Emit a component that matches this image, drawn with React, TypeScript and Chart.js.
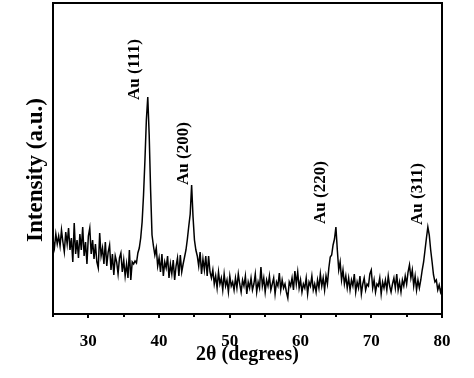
import React, { useEffect, useRef } from 'react';
import { Chart, registerables } from 'chart.js';

Chart.register(...registerables);

// XRD scan: 2θ from 25° to 80° with 0.2° step
const SCAN_START = 25;
const SCAN_STEP = 0.2;

// Intensity (a.u.), one value per scan step
const INTENSITY = [
  // 25
  74, 66, 80, 70, 78,
  // 26
  68, 84, 72, 62, 82,
  // 27
  70, 86, 64, 76, 52,
  // 28
  91, 60, 74, 56, 80,
  // 29
  64, 87, 58, 72, 50,
  // 30
  78, 86, 60, 74, 55,
  // 31
  70, 52, 46, 81, 58,
  // 32
  66, 50, 72, 48, 62,
  // 33
  69, 44, 60, 39, 58,
  // 34
  52, 40, 56, 61, 42,
  // 35
  54, 38, 50, 36, 64,
  // 36
  34, 52, 50, 53, 51,
  // 37
  61, 66, 76, 92, 119,
  // 38
  154, 194, 217, 179, 124,
  // 39
  79, 68, 59, 66, 48,
  // 40
  56, 42, 60, 38, 52,
  // 41
  46, 58, 36, 50, 40,
  // 42
  54, 34, 48, 56, 38,
  // 43
  59, 42, 50, 57, 64,
  // 44
  75, 88, 100, 129, 97,
  // 45
  74, 64, 58, 48, 62,
  // 46
  40, 55, 44, 58, 38,
  // 47
  58, 42, 36, 44, 30,
  // 48
  38, 26, 42, 30, 36,
  // 49
  24, 40, 28, 34, 22,
  // 50
  38, 28, 32, 24, 36,
  // 51
  26, 40, 30, 22, 34,
  // 52
  28, 38, 20, 32, 26,
  // 53
  36, 24, 30, 40, 22,
  // 54
  32, 26, 47, 28, 36,
  // 55
  22, 34, 28, 38, 24,
  // 56
  30, 36, 20, 32, 28,
  // 57
  41, 24, 34, 26, 30,
  // 58
  22, 16, 32, 28, 36,
  // 59
  24, 43, 30, 42, 26,
  // 60
  34, 22, 30, 26, 36,
  // 61
  20, 32, 28, 38, 24,
  // 62
  30, 22, 34, 26, 40,
  // 63
  28, 36, 24, 38, 30,
  // 64
  46, 57, 59, 69, 75,
  // 65
  87, 64, 44, 52, 34,
  // 66
  44, 30, 38, 26, 36,
  // 67
  24, 34, 28, 40, 22,
  // 68
  32, 26, 38, 20, 30,
  // 69
  36, 24, 30, 28, 40,
  // 70
  44, 26, 34, 22, 30,
  // 71
  28, 36, 20, 32, 26,
  // 72
  34, 24, 38, 28, 22,
  // 73
  30, 36, 26, 40, 24,
  // 74
  32, 22, 34, 28, 38,
  // 75
  30, 42, 49, 36, 44,
  // 76
  28, 38, 24, 34, 26,
  // 77
  34, 44, 52, 64, 76,
  // 78
  87, 79, 64, 52, 39,
  // 79
  32, 34, 24, 29, 22,
  // 80
  27,
];

const X_MIN = 25;
const X_MAX = 80;
const Y_MIN = 0;
const Y_MAX = 311;
const X_TICK_STEP = 10;
const X_MINOR_TICKS = [25, 30, 35, 40, 45, 50, 55, 60, 65, 70, 75, 80];

const PEAK_LABELS = ['Au (111)', 'Au (200)', 'Au (220)', 'Au (311)'];
const PEAK_LABEL_X = [36.6, 43.5, 62.9, 76.6];
const PEAK_LABEL_Y = [214, 129, 90, 89];

const X_TITLE = '2θ (degrees)';
const Y_TITLE = 'Intensity (a.u.)';

const FONT = "'Times New Roman', 'Liberation Serif', serif";

const framePlugin = {
  id: 'frame',
  afterDraw(chart: any) {
    const { ctx, chartArea, scales } = chart;
    const { left, right, top, bottom } = chartArea;
    ctx.save();
    ctx.strokeStyle = '#000';
    ctx.lineWidth = 2;
    ctx.strokeRect(left, top, right - left, bottom - top);
    // tick marks (outward)
    ctx.lineWidth = 2;
    X_MINOR_TICKS.forEach((v) => {
      const px = Math.round(scales.x.getPixelForValue(v));
      const len = v % 10 === 0 ? 4 : 3;
      ctx.beginPath();
      ctx.moveTo(px, bottom);
      ctx.lineTo(px, bottom + len);
      ctx.stroke();
    });
    // peak labels
    ctx.fillStyle = '#000';
    ctx.font = `bold 17px ${FONT}`;
    ctx.textAlign = 'left';
    ctx.textBaseline = 'middle';
    PEAK_LABELS.forEach((t, i) => {
      const px = scales.x.getPixelForValue(PEAK_LABEL_X[i]);
      const py = scales.y.getPixelForValue(PEAK_LABEL_Y[i]);
      ctx.save();
      ctx.translate(px, py);
      ctx.rotate(-Math.PI / 2);
      ctx.fillText(t, 0, 0);
      ctx.restore();
    });
    // y title
    ctx.font = `bold 23px ${FONT}`;
    ctx.textAlign = 'center';
    ctx.save();
    ctx.translate(36.5, 170);
    ctx.rotate(-Math.PI / 2);
    ctx.fillText(Y_TITLE, 0, 0);
    ctx.restore();
    ctx.restore();
  },
};

export default function App() {
  const ref = useRef<HTMLCanvasElement | null>(null);

  useEffect(() => {
    document.body.style.margin = '0';
    const canvas = ref.current;
    if (!canvas) return;
    const points = INTENSITY.map((v, i) => ({
      x: Math.round((SCAN_START + i * SCAN_STEP) * 100) / 100,
      y: v,
    }));
    const chart = new Chart(canvas, {
      type: 'line',
      data: {
        datasets: [
          {
            data: points,
            borderColor: '#000',
            borderWidth: 1.5,
            pointRadius: 0,
            tension: 0,
            fill: false,
          },
        ],
      },
      options: {
        animation: false,
        responsive: false,
        maintainAspectRatio: false,
        layout: { padding: { top: 3, right: 32, left: 0, bottom: 0 } },
        plugins: { legend: { display: false }, tooltip: { enabled: false } },
        scales: {
          x: {
            type: 'linear',
            min: X_MIN,
            max: X_MAX,
            grid: { display: false },
            border: { display: false },
            ticks: {
              stepSize: X_TICK_STEP,
              includeBounds: false,
              padding: 9,
              color: '#000',
              maxRotation: 0,
              autoSkip: false,
              font: { family: FONT, size: 17, weight: 'bold' },
            },
            title: {
              display: true,
              text: X_TITLE,
              color: '#000',
              font: { family: FONT, size: 20, weight: 'bold' },
              padding: { top: 0, bottom: 11 },
            },
            afterFit: (s: any) => {
              s.height = 64;
            },
          },
          y: {
            min: Y_MIN,
            max: Y_MAX,
            grid: { display: false },
            border: { display: false },
            ticks: { display: false },
            afterFit: (s: any) => {
              s.width = 53;
            },
          },
        },
      },
      plugins: [framePlugin],
    } as any);
    return () => chart.destroy();
  }, []);

  return (
    <div style={{ width: 474, height: 378, background: '#fff' }}>
      <canvas ref={ref} width={474} height={378} style={{ display: 'block' }} />
    </div>
  );
}
